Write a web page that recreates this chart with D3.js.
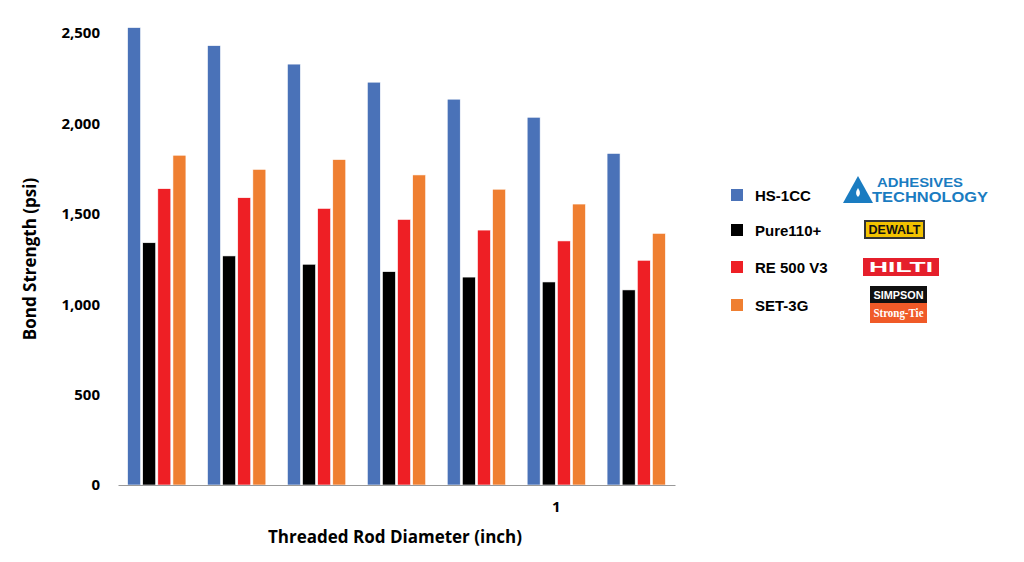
<!DOCTYPE html>
<html><head><meta charset="utf-8">
<script src="https://cdn.jsdelivr.net/npm/d3@7"></script>
<style>body{margin:0;background:#fff}</style></head>
<body><svg id="c" width="1024" height="562"></svg>
<script>
const categories = ["a","b","c","d","e","f","g"];
const xLabels = ["","","","","","1",""];
const seriesNames = ["HS-1CC","Pure110+","RE 500 V3","SET-3G"];
const colors = ["#4a72b8","#000000","#ee1f25","#ef7f31"];
const hs1cc = [2530,2430,2328,2228,2134,2034,1834];
const pure110 = [1340,1267,1221,1180,1150,1123,1079];
const re500 = [1639,1589,1530,1469,1410,1350,1243];
const set3g = [1824,1746,1800,1715,1636,1554,1392];
const yTicks = [0,500,1000,1500,2000,2500];
const series = [hs1cc,pure110,re500,set3g];

const svg = d3.select("#c");
const x = d3.scaleBand().domain(categories).range([118,675]).paddingInner(0.27).paddingOuter(0.12);
const y = d3.scaleLinear().domain([0,2500]).range([485,33]);
const xs = d3.scaleBand().domain(d3.range(4)).range([0,x.bandwidth()]).paddingInner(0.14);

categories.forEach((c,i)=>{
  series.forEach((s,j)=>{
    svg.append("rect").attr("x",x(c)+xs(j)).attr("width",xs.bandwidth())
      .attr("y",y(s[i])).attr("height",y(0)-y(s[i])).attr("fill",colors[j])
      .attr("stroke","#fff").attr("stroke-width",0.6);
  });
});

const ya = d3.axisLeft(y).tickValues(yTicks).tickFormat(d3.format(",")).tickSize(0).tickPadding(0);
const yg = svg.append("g").attr("transform","translate(100,0)").call(ya);
yg.select(".domain").remove();
yg.selectAll("text").attr("font-family","Open Sans").attr("font-weight","bold").attr("font-size",15).attr("fill","#000");

const xa = d3.axisBottom(x).tickFormat((d,i)=>xLabels[i]).tickSize(0).tickPadding(16);
const xg = svg.append("g").attr("transform","translate(0,485)").call(xa);
xg.select(".domain").attr("stroke","#999");
xg.selectAll("text").attr("font-family","Open Sans").attr("font-weight","bold").attr("font-size",15).attr("fill","#000");

svg.append("text").attr("x",395).attr("y",543).attr("text-anchor","middle")
  .attr("font-family","Open Sans").attr("font-weight","bold").attr("font-size",17).text("Threaded Rod Diameter (inch)");
svg.append("text").attr("transform","translate(36,259) rotate(-90)").attr("text-anchor","middle")
  .attr("font-family","Open Sans").attr("font-weight","bold").attr("font-size",17).text("Bond Strength (psi)");

// legend
const ly = [195,230,267,305];
seriesNames.forEach((n,j)=>{
  svg.append("rect").attr("x",731).attr("y",ly[j]-6).attr("width",12).attr("height",12).attr("fill",colors[j]);
  svg.append("text").attr("x",755).attr("y",ly[j]+6).attr("font-family","Liberation Sans").attr("font-weight","bold")
    .attr("font-size",15).attr("fill","#000").text(n);
});
// logos
const lg = svg.append("g");
lg.append("path").attr("d","M843,203 L858,176 L873,203 Z").attr("fill","#1a7cc1");
lg.append("path").attr("d","M858,188 q-4,6 0,9 q4,-3 0,-9Z").attr("fill","#fff");
lg.append("text").attr("x",877).attr("y",187).attr("font-family","Liberation Sans").attr("font-weight","bold").attr("font-size",12).attr("fill","#1a7cc1").attr("textLength",86).attr("lengthAdjust","spacingAndGlyphs").text("ADHESIVES");
lg.append("text").attr("x",872).attr("y",202).attr("font-family","Liberation Sans").attr("font-weight","bold").attr("font-size",14).attr("fill","#1a7cc1").attr("textLength",116).attr("lengthAdjust","spacingAndGlyphs").text("TECHNOLOGY");
lg.append("rect").attr("x",864).attr("y",220).attr("width",61).attr("height",19).attr("fill","#333");
lg.append("rect").attr("x",866).attr("y",222).attr("width",57).attr("height",15).attr("fill","#f2c200");
lg.append("text").attr("x",894.5).attr("y",234).attr("text-anchor","middle").attr("font-family","Liberation Sans").attr("font-weight","bold").attr("font-size",12).attr("fill","#111").attr("textLength",52).attr("lengthAdjust","spacingAndGlyphs").text("DEWALT");
lg.append("rect").attr("x",863).attr("y",258).attr("width",76).attr("height",18).attr("fill","#e51f2b");
lg.append("text").attr("x",901).attr("y",272).attr("text-anchor","middle").attr("font-family","Liberation Sans").attr("font-weight","bold").attr("font-size",15).attr("fill","#fff").attr("textLength",64).attr("lengthAdjust","spacingAndGlyphs").text("HILTI");
lg.append("rect").attr("x",870).attr("y",286).attr("width",57).attr("height",17).attr("fill","#111");
lg.append("text").attr("x",898.5).attr("y",299).attr("text-anchor","middle").attr("font-family","Liberation Sans").attr("font-weight","bold").attr("font-size",11).attr("fill","#fff").attr("textLength",50).attr("lengthAdjust","spacingAndGlyphs").text("SIMPSON");
lg.append("rect").attr("x",870).attr("y",303).attr("width",57).attr("height",20).attr("fill","#f05a28");
lg.append("text").attr("x",898.5).attr("y",317).attr("text-anchor","middle").attr("font-family","Liberation Serif").attr("font-weight","bold").attr("font-size",12).attr("fill","#fff").attr("textLength",50).attr("lengthAdjust","spacingAndGlyphs").text("Strong-Tie");
</script></body></html>
